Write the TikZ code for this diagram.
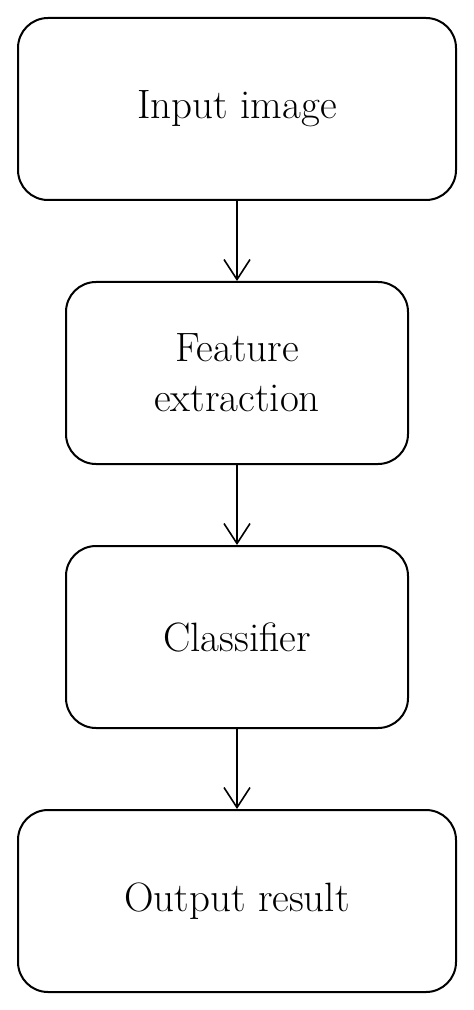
\documentclass[tikz,border=0pt]{standalone}
\usetikzlibrary{positioning}
\usetikzlibrary{arrows.meta}

\begin{document}
\begin{tikzpicture}[
    node distance=40pt,
    wide/.style={rectangle,rounded corners=15pt,draw=black,line width=1pt,minimum width=219pt,minimum height=91pt,text centered,align=center,font=\fontsize{20.5}{25}\selectfont},
    narrow/.style={wide,minimum width=171pt},
    arr/.style={line width=0.8pt,-{Straight Barb[length=10pt,width=13pt,line width=0.8pt]}}
    ]
    \useasboundingbox (0,0) rectangle (237pt,-505pt);
    \node (input) [wide,below=8.5pt of {(118.5pt,0)},anchor=north] {Input image};
    \node (feat) [narrow,below=of input] {Feature\\extraction};
    \node (cls) [narrow,below=of feat] {Classifier};
    \node (out) [wide,below=of cls] {Output result};
    \draw[arr] (input) -- (feat);
    \draw[arr] (feat) -- (cls);
    \draw[arr] (cls) -- (out);
  \end{tikzpicture}
\end{document}
